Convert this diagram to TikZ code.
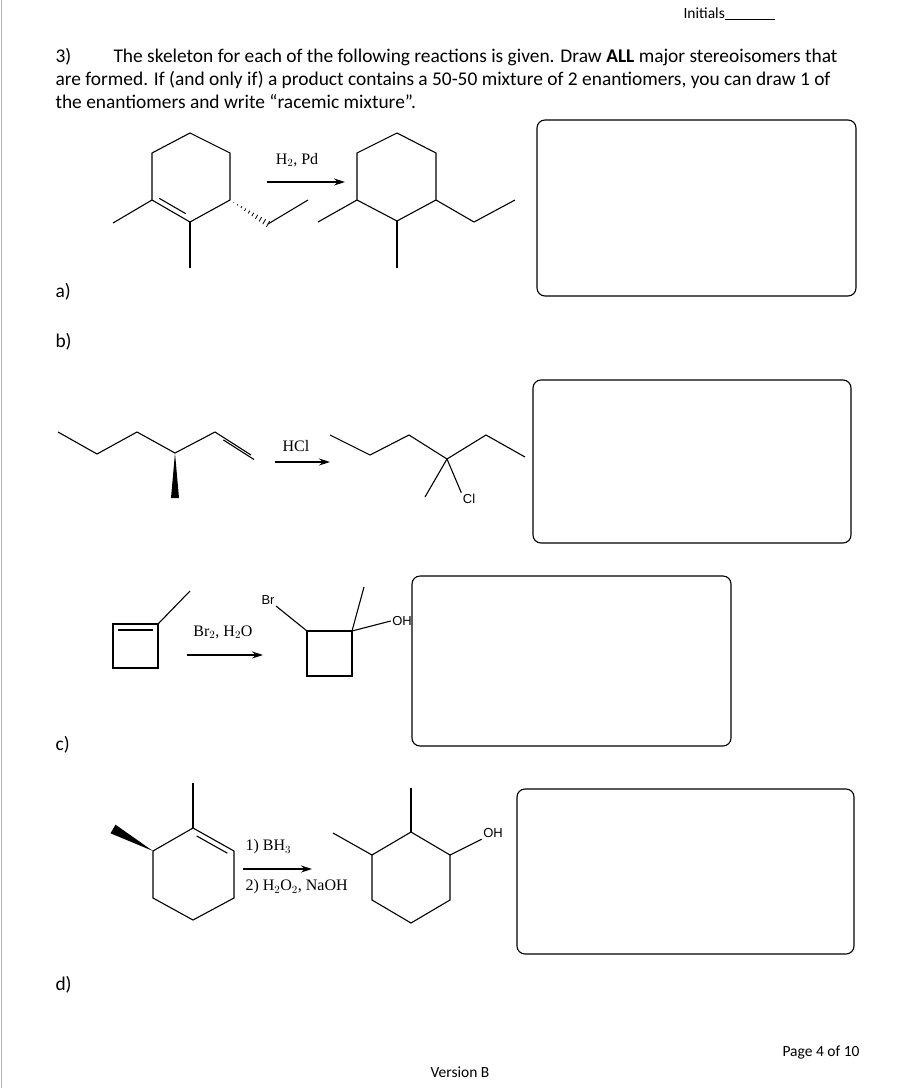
\documentclass[tikz,border=0pt]{standalone}
\usepackage{fontspec}
\usetikzlibrary{calc,arrows.meta}
\setmainfont{Carlito}
\newfontfamily\tms{Liberation Serif}
\newfontfamily\arl{Liberation Sans}
\begin{document}
\begin{tikzpicture}[x=1pt,y=-1pt,line width=1.1pt,
  bnd/.style={line width=1.1pt},
  ansbox/.style={draw,line width=1.1pt,rounded corners=8pt},
  rxn/.style={-{Stealth[length=11pt,width=7pt]},line width=1.1pt},
  reag/.style={font=\tms\fontsize{16}{18}\selectfont,inner sep=0pt},
  atm/.style={font=\arl\fontsize{13}{15}\selectfont,inner sep=1pt},
  txt/.style={font=\fontsize{19.4}{22}\selectfont,anchor=west,inner sep=0pt}]
\useasboundingbox (0,0) rectangle (914,1088);
\draw[gray!60,line width=1pt] (1.5,0) -- (1.5,1088);
% header text
\node[txt,font=\fontsize{15.5}{18}\selectfont] (ini) at (683,14) {Initials\rule[-1pt]{50pt}{0.8pt}};
\node[txt] (q3) at (55,57) {3)};
\node[txt] (l1) at (113,57) {The skeleton for each of the following reactions is given. Draw \textbf{ALL} major stereoisomers that};
\node[txt] (l2) at (55,80) {are formed. If (and only if) a product contains a 50-50 mixture of 2 enantiomers, you can draw 1 of};
\node[txt] (l3) at (55,102) {the enantiomers and write “racemic mixture”.};
\node[txt] (la) at (55,292) {a)};
\node[txt] (lb) at (55,342) {b)};
\node[txt] (lc) at (55,745) {c)};
\node[txt] (ld) at (55,985) {d)};
\node[txt,font=\fontsize{15.5}{18}\selectfont] (pg) at (782,1053) {Page 4 of 10};
\node[font=\fontsize{15.5}{18}\selectfont] (ver) at (460,1072) {Version B};
% answer boxes
\draw[ansbox] (537,120) rectangle (856,296);
\draw[ansbox] (533,380) rectangle (851,543);
\draw[ansbox] (412,576) rectangle (731,746);
\draw[ansbox] (517,789) rectangle (854,954);
% ===== a) reactant
\coordinate (a1) at (190,133); \coordinate (a2) at (230,153); \coordinate (a3) at (230,200);
\coordinate (a4) at (190,222); \coordinate (a5) at (152,200); \coordinate (a6) at (152,153);
\draw[bnd] (a1)--(a2)--(a3)--(a4)--(a5)--(a6)--cycle;
\draw[bnd] ($(a5)!0.15!(a4)+(1.5,-5)$) -- ($(a5)!0.85!(a4)+(1.5,-5)$);
\coordinate (am1) at (113,223); \coordinate (am2) at (190,268);
\draw[bnd] (a5)--(am1); \draw[bnd] (a4)--(am2);
\coordinate (ae1) at (268,224); \coordinate (ae2) at (308,200);
\foreach \t in {0.1,0.2,...,1.0} {
  \draw[line width=0.8pt] ($(a3)!\t!(ae1)+(\t*1.6,-\t*2.8)$) -- ($(a3)!\t!(ae1)-(\t*1.6,-\t*2.8)$);}
\draw[bnd] (ae1)--(ae2);
\coordinate (ar1) at (267,182); \coordinate (ar2) at (345,182);
\draw[rxn] (ar1)--(ar2);
\node[reag] (ra) at (297,160) {H$_2$, Pd};
% a) product
\coordinate (p1) at (397,133); \coordinate (p2) at (436,153); \coordinate (p3) at (436,200);
\coordinate (p4) at (397,221); \coordinate (p5) at (357,200); \coordinate (p6) at (357,153);
\draw[bnd] (p1)--(p2)--(p3)--(p4)--(p5)--(p6)--cycle;
\coordinate (pm1) at (318,222); \coordinate (pm2) at (397,268);
\coordinate (pe1) at (474,222); \coordinate (pe2) at (515,200);
\draw[bnd] (p5)--(pm1); \draw[bnd] (p4)--(pm2); \draw[bnd] (p3)--(pe1)--(pe2);
% ===== b) reactant
\coordinate (b1) at (58,432); \coordinate (b2) at (97,454); \coordinate (b3) at (137,432);
\coordinate (b4) at (175,453); \coordinate (b5) at (215,432); \coordinate (b6) at (251,455);
\draw[bnd] (b1)--(b2)--(b3)--(b4)--(b5)--(b6);
\draw[bnd] ($(b5)!0.15!(b6)+(3,4.5)$) -- ($(b5)!1.0!(b6)+(3,4.5)$);
\coordinate (bw) at (175,498);
\fill (b4) -- ($(bw)+(-4,0)$) -- ($(bw)+(4,0)$) -- cycle;
\coordinate (br1) at (275,462); \coordinate (br2) at (330,462);
\draw[rxn] (br1)--(br2);
\node[reag] (rb) at (296,446) {HCl};
% b) product
\coordinate (q1) at (330,435); \coordinate (q2) at (370,455); \coordinate (q3c) at (409,435);
\coordinate (q4) at (447,459); \coordinate (q5) at (486,435); \coordinate (q6) at (525,457);
\draw[bnd] (q1)--(q2)--(q3c)--(q4)--(q5)--(q6);
\coordinate (qm) at (425,497);
\draw[bnd] (q4)--(qm);
\node[atm] (cl) at (469,499) {Cl};
\draw[bnd] (q4)--(cl.north west);
% ===== c) reactant
\coordinate (c1) at (113,624); \coordinate (c2) at (158,624); \coordinate (c3) at (158,668); \coordinate (c4) at (113,668);
\draw[bnd] (c1)--(c2)--(c3)--(c4)--cycle;
\draw[bnd] (118,630)--(153,630);
\coordinate (cm) at (190,591);
\draw[bnd] (c2)--(cm);
\coordinate (cr1) at (187,655); \coordinate (cr2) at (263,655);
\draw[rxn] (cr1)--(cr2);
\node[reag] (rc) at (223,632) {Br$_2$, H$_2$O};
% c) product
\coordinate (s1) at (307,631); \coordinate (s2) at (352,631); \coordinate (s3) at (352,676); \coordinate (s4) at (307,676);
\draw[bnd] (s1)--(s2)--(s3)--(s4)--cycle;
\node[atm] (brl) at (268,600) {Br};
\draw[bnd] (s1)--(brl.south east);
\coordinate (sm) at (364,587);
\draw[bnd] (s2)--(sm);
\node[atm] (ohc) at (402,621) {OH};
\draw[bnd] (s2)--(ohc.west);
% ===== d) reactant
\coordinate (d1) at (193,828); \coordinate (d2) at (234,851); \coordinate (d3) at (234,898);
\coordinate (d4) at (193,920); \coordinate (d5) at (153,898); \coordinate (d6) at (153,851);
\draw[bnd] (d1)--(d2)--(d3)--(d4)--(d5)--(d6)--cycle;
\draw[bnd] ($(d1)!0.15!(d2)+(-2.5,4.5)$) -- ($(d1)!0.9!(d2)+(-2.5,4.5)$);
\coordinate (dm) at (193,783);
\draw[bnd] (d1)--(dm);
\coordinate (dw) at (113,829);
\fill (d6) -- ($(dw)+(-2.5,4.3)$) -- ($(dw)+(2.5,-4.3)$) -- cycle;
\coordinate (dr1) at (243,869); \coordinate (dr2) at (312,869);
\draw[rxn] (dr1)--(dr2);
\node[reag,anchor=west] (rd1) at (245,847) {1) BH$_3$};
\node[reag,anchor=west] (rd2) at (245,887) {2) H$_2$O$_2$, NaOH};
% d) product
\coordinate (e1) at (411,832); \coordinate (e2) at (450,855); \coordinate (e3) at (450,900);
\coordinate (e4) at (411,923); \coordinate (e5) at (372,900); \coordinate (e6) at (372,855);
\draw[bnd] (e1)--(e2)--(e3)--(e4)--(e5)--(e6)--cycle;
\coordinate (em1) at (411,788); \coordinate (em2) at (333,833);
\draw[bnd] (e1)--(em1); \draw[bnd] (e6)--(em2);
\node[atm] (ohd) at (493,833) {OH};
\draw[bnd] (e2)--(ohd.south west);
\end{tikzpicture}
\end{document}
